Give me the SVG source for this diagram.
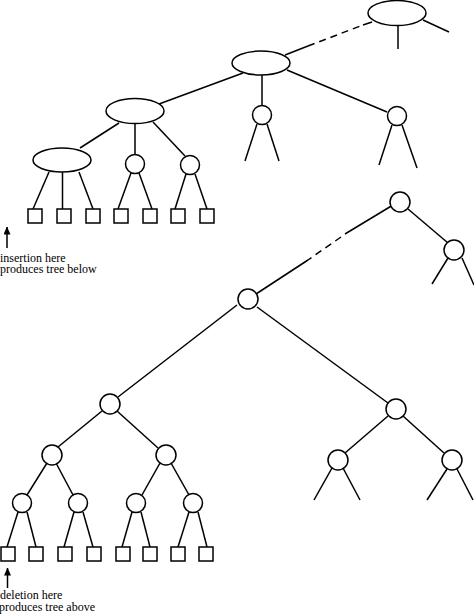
<svg xmlns="http://www.w3.org/2000/svg" width="474" height="614" viewBox="0 0 474 614">
<style>
.n{fill:#fff;stroke:#000;stroke-width:1.5}
.e{stroke:#000;stroke-width:1.5;fill:none}
.d{stroke:#000;stroke-width:1.5;fill:none;stroke-dasharray:7 5}
.t{font-family:"Liberation Serif","Times New Roman",serif;font-size:12px;fill:#000}
</style>
<defs>
<marker id="ah" markerWidth="8" markerHeight="7" refX="7.5" refY="3.5" orient="auto" markerUnits="userSpaceOnUse" viewBox="0 0 8 7">
<path d="M0,0 L8,3.5 L0,7 Z" fill="#000"/>
</marker>
</defs>
<rect width="474" height="614" fill="#fff"/>
<g id="connectors">
<line class="e" x1="285" y1="55" x2="308" y2="46"/>
<line class="d" x1="308" y1="46" x2="363" y2="25"/>
<line class="e" x1="363" y1="25" x2="372" y2="22"/>
<line class="e" x1="398" y1="26" x2="398" y2="49"/>
<line class="e" x1="423" y1="20" x2="449" y2="32"/>
<line class="e" x1="243" y1="73" x2="159" y2="104"/>
<line class="e" x1="262" y1="75" x2="262" y2="106"/>
<line class="e" x1="287" y1="70" x2="387" y2="112"/>
<line class="e" x1="257" y1="124" x2="245" y2="161"/>
<line class="e" x1="267" y1="124" x2="279" y2="161"/>
<line class="e" x1="392" y1="125" x2="379" y2="165"/>
<line class="e" x1="402" y1="125" x2="417" y2="168"/>
<line class="e" x1="119" y1="123" x2="80" y2="148"/>
<line class="e" x1="135" y1="124" x2="135" y2="155"/>
<line class="e" x1="153" y1="122" x2="185" y2="156"/>
<line class="e" x1="49" y1="172" x2="33" y2="209"/>
<line class="e" x1="62.5" y1="172" x2="62.5" y2="209"/>
<line class="e" x1="79" y1="172" x2="93" y2="209"/>
<line class="e" x1="131" y1="173" x2="118" y2="209"/>
<line class="e" x1="139" y1="173" x2="152" y2="209"/>
<line class="e" x1="186" y1="174" x2="175" y2="209"/>
<line class="e" x1="195" y1="174" x2="207" y2="209"/>
<line class="e" x1="7" y1="248" x2="7" y2="227" marker-end="url(#ah)"/>
<line class="e" x1="408" y1="209" x2="448" y2="243"/>
<line class="e" x1="448" y1="258" x2="432" y2="284"/>
<line class="e" x1="462" y1="258" x2="474" y2="285"/>
<line class="e" x1="393" y1="205" x2="345" y2="234"/>
<line class="d" x1="341" y1="237" x2="308" y2="260"/>
<line class="e" x1="308" y1="260" x2="256" y2="294"/>
<line class="e" x1="237" y1="305" x2="118" y2="397"/>
<line class="e" x1="257" y1="307" x2="388" y2="403"/>
<line class="e" x1="102" y1="411" x2="58" y2="447"/>
<line class="e" x1="117" y1="411" x2="158" y2="448"/>
<line class="e" x1="388" y1="416" x2="345" y2="453"/>
<line class="e" x1="403" y1="416" x2="444" y2="453"/>
<line class="e" x1="332" y1="468" x2="314" y2="500"/>
<line class="e" x1="343" y1="468" x2="360" y2="500"/>
<line class="e" x1="447" y1="469" x2="427" y2="500"/>
<line class="e" x1="457" y1="469" x2="473" y2="500"/>
<line class="e" x1="47" y1="463" x2="27" y2="495"/>
<line class="e" x1="56" y1="463" x2="73" y2="495"/>
<line class="e" x1="160" y1="463" x2="142" y2="495"/>
<line class="e" x1="171" y1="463" x2="189" y2="495"/>
<line class="e" x1="18" y1="512" x2="7" y2="547"/>
<line class="e" x1="27" y1="512" x2="36" y2="547"/>
<line class="e" x1="74" y1="512" x2="64" y2="547"/>
<line class="e" x1="83" y1="512" x2="93" y2="547"/>
<line class="e" x1="132" y1="512" x2="122" y2="547"/>
<line class="e" x1="141" y1="512" x2="150" y2="547"/>
<line class="e" x1="189" y1="512" x2="178" y2="547"/>
<line class="e" x1="198" y1="512" x2="207" y2="547"/>
<line class="e" x1="7.5" y1="588" x2="7.5" y2="568" marker-end="url(#ah)"/>
</g>
<g id="t-root"><ellipse class="n" cx="397" cy="13" rx="29" ry="12.5"/></g>
<g id="t-e2"><ellipse class="n" cx="261" cy="63" rx="29" ry="12"/></g>
<g id="t-e3"><ellipse class="n" cx="135" cy="111" rx="29" ry="12.5"/></g>
<g id="t-e4"><ellipse class="n" cx="62" cy="160" rx="29" ry="12"/></g>
<g id="t-c1"><circle class="n" cx="262" cy="115" r="9.5"/></g>
<g id="t-c2"><circle class="n" cx="397" cy="116" r="9.5"/></g>
<g id="t-ca"><circle class="n" cx="135" cy="164" r="9.5"/></g>
<g id="t-cb"><circle class="n" cx="190" cy="165" r="9.5"/></g>
<g id="t-s1"><rect class="n" x="28" y="209" width="14" height="14"/></g>
<g id="t-s2"><rect class="n" x="57" y="209" width="14" height="14"/></g>
<g id="t-s3"><rect class="n" x="86" y="209" width="14" height="14"/></g>
<g id="t-s4"><rect class="n" x="114" y="209" width="14" height="14"/></g>
<g id="t-s5"><rect class="n" x="143" y="209" width="14" height="14"/></g>
<g id="t-s6"><rect class="n" x="171" y="209" width="14" height="14"/></g>
<g id="t-s7"><rect class="n" x="200" y="209" width="14" height="14"/></g>
<g id="t-label"><text class="t" x="0" y="261.5">insertion here</text><text class="t" x="0" y="273">produces tree below</text></g>
<g id="b-p"><circle class="n" cx="400" cy="202" r="10"/></g>
<g id="b-q"><circle class="n" cx="454" cy="250" r="10"/></g>
<g id="b-m"><circle class="n" cx="248" cy="299" r="10"/></g>
<g id="b-l"><circle class="n" cx="110" cy="404" r="10"/></g>
<g id="b-r"><circle class="n" cx="396" cy="409" r="10"/></g>
<g id="b-l2a"><circle class="n" cx="52" cy="455" r="10"/></g>
<g id="b-l2b"><circle class="n" cx="166" cy="455" r="10"/></g>
<g id="b-r2a"><circle class="n" cx="338" cy="460" r="10"/></g>
<g id="b-r2b"><circle class="n" cx="452" cy="460" r="10"/></g>
<g id="b-l3a"><circle class="n" cx="22" cy="503" r="9.5"/></g>
<g id="b-l3b"><circle class="n" cx="78" cy="503" r="9.5"/></g>
<g id="b-l3c"><circle class="n" cx="136" cy="503" r="9.5"/></g>
<g id="b-l3d"><circle class="n" cx="193" cy="503" r="9.5"/></g>
<g id="b-s1"><rect class="n" x="1" y="547" width="14" height="14"/></g>
<g id="b-s2"><rect class="n" x="29" y="547" width="14" height="14"/></g>
<g id="b-s3"><rect class="n" x="58" y="547" width="14" height="14"/></g>
<g id="b-s4"><rect class="n" x="87" y="547" width="14" height="14"/></g>
<g id="b-s5"><rect class="n" x="116" y="547" width="14" height="14"/></g>
<g id="b-s6"><rect class="n" x="143" y="547" width="14" height="14"/></g>
<g id="b-s7"><rect class="n" x="171" y="547" width="14" height="14"/></g>
<g id="b-s8"><rect class="n" x="199" y="547" width="14" height="14"/></g>
<g id="b-label"><text class="t" x="0" y="599">deletion here</text><text class="t" x="-1" y="611">produces tree above</text></g>
</svg>
